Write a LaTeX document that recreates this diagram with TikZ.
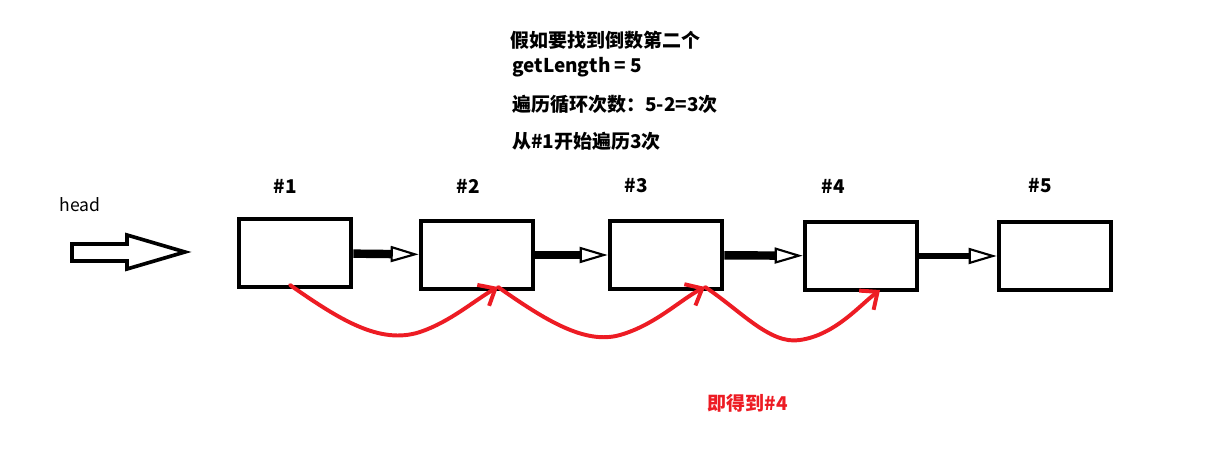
\documentclass[tikz,border=0pt]{standalone}
\usepackage{fontspec}
\setmainfont{Noto Sans CJK SC}
\usetikzlibrary{arrows.meta}
\definecolor{penred}{RGB}{237,28,36}
\tikzset{
	cell/.style={draw, line width=3.3pt, minimum width=2.8cm, minimum height=1.7cm},
	link/.style={line width=6pt, -{Triangle[open, length=7mm, width=4mm, line width=1.5pt]}},
	hop/.style={penred, line width=2.8pt, line cap=round, -{Straight Barb[length=3.5mm, width=6mm]}},
	txt/.style={font=\fontsize{13.5}{15}\selectfont\bfseries, anchor=west, inner sep=0pt}
}
\begin{document}
\begin{tikzpicture}[x=0.025cm, y=-0.025cm]
	\useasboundingbox (0, 0) rectangle (1217, 465);
	% title text
	\node[txt] (t1) at (510, 40) {假如要找到倒数第二个};
	\node[txt] (t2) at (512, 67) {getLength = 5};
	\node[txt] (t3) at (512, 104) {遍历循环次数：5-2=3次};
	\node[txt] (t4) at (512, 141) {从\#1开始遍历3次};
	% head pointer
	\node[font=\fontsize{12.5}{14}\selectfont] (head) at (80, 205) {head};
	\draw[line width=2.6pt] (72, 244) -- (127, 244) -- (127, 235) -- (185, 252) -- (127, 269) -- (127, 261) -- (72, 261) -- cycle;
	% list cells
	\node[cell] (n1) at (295, 253) {};
	\node[cell] (n2) at (477, 255) {};
	\node[cell] (n3) at (666, 255) {};
	\node[cell] (n4) at (861, 256) {};
	\node[cell] (n5) at (1055, 256) {};
	\foreach \i/\x in {1/285, 2/468, 3/636, 4/833, 5/1040}{
		\node[txt, anchor=center] (l\i) at (\x, 186) {\#\i};
	}
	% next links
	\draw[link] (n1) -- (n2);
	\draw[link] (n2) -- (n3);
	\draw[link] (n3) -- (n4);
	\draw[link, line width=4pt] (n4) -- (n5);
	% traversal hops
	\coordinate (s1) at (290, 285);
	\coordinate (e1) at (498, 287);
	\coordinate (e2) at (705, 287);
	\coordinate (e3) at (880, 290);
	\draw[hop] (s1) .. controls (340, 320) and (380, 345) .. (420, 332) .. controls (450, 322) and (475, 300) .. (e1);
	\draw[hop] (e1) .. controls (545, 320) and (585, 345) .. (620, 335) .. controls (655, 325) and (680, 300) .. (e2);
	\draw[hop] (e2) .. controls (740, 310) and (770, 345) .. (800, 340) .. controls (835, 335) and (860, 305) .. (e3);
	% result
	\node[txt, anchor=center, text=penred] (res) at (748, 403) {即得到\#4};
\end{tikzpicture}
\end{document}
